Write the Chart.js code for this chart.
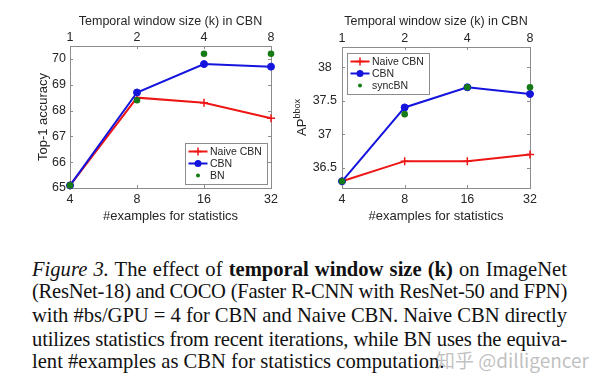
<!DOCTYPE html>
<html>
<head>
<meta charset="utf-8">
<script src="https://cdn.jsdelivr.net/npm/chart.js@4.4.1/dist/chart.umd.min.js"></script>
<style>
  body { margin: 0; background: #fff; width: 600px; height: 387px; position: relative; overflow: hidden; }
  #left { position: absolute; left: 0; top: 0; }
  #right { position: absolute; left: 280px; top: 0; }
  .cap {
    position: absolute; left: 32px; width: 535px;
    font-family: "Liberation Serif", "Times New Roman", serif;
    font-size: 20.6px; line-height: 23.5px; color: #111;
    white-space: nowrap;
    text-align: justify; text-align-last: justify;
  }
  .cap.last { text-align: left; text-align-last: left; }
  .mark {
    position: absolute; left: 436px; top: 346px;
    font-family: "Noto Sans CJK SC", "Noto Sans", sans-serif;
    font-size: 19px; color: rgba(150, 150, 150, 0.6); white-space: nowrap;
  }
</style>
</head>
<body>
<canvas id="left" width="300" height="230"></canvas>
<canvas id="right" width="320" height="230"></canvas>

<div class="cap" style="top:258px"><i>Figure 3.</i> The effect of <b>temporal window size (k)</b> on ImageNet</div>
<div class="cap" style="top:280px">(ResNet-18) and COCO (Faster R-CNN with ResNet-50 and FPN)</div>
<div class="cap" style="top:304px">with #bs/GPU = 4 for CBN and Naive CBN. Naive CBN directly</div>
<div class="cap" style="top:328px">utilizes statistics from recent iterations, while BN uses the equiva-</div>
<div class="cap last" style="top:350px">lent #examples as CBN for statistics computation.</div>
<div class="mark">知乎 @dilligencer</div>

<script>
  // x categories (bottom axis) and window sizes (top axis)
  const examples = ["4", "8", "16", "32"];
  const windowSizes = ["1", "2", "4", "8"];

  // ImageNet, ResNet-18
  const imagenetNaive = [65.1, 68.5, 68.3, 67.7];
  const imagenetCBN = [65.1, 68.7, 69.8, 69.7];
  const imagenetBN = [65.1, 68.4, 70.2, 70.2];
  const imagenetTicks = [65, 66, 67, 68, 69, 70];

  // COCO, Faster R-CNN
  const cocoNaive = [36.3, 36.6, 36.6, 36.7];
  const cocoCBN = [36.3, 37.4, 37.7, 37.6];
  const cocoSync = [36.3, 37.3, 37.7, 37.7];
  const cocoTicks = [36.5, 37, 37.5, 38];

  const RED = "#ee1515";
  const BLUE = "#1414dd";
  const GREEN = "#167a16";
  const AXIS = "#8c8c8c";
  const TEXT = "#262626";
  const SANS = "'Liberation Sans', Arial, sans-serif";

  // squeeze caption lines that are wider than the column
  document.querySelectorAll(".cap:not(.last)").forEach((el) => {
    const span = document.createElement("span");
    span.innerHTML = el.innerHTML;
    span.style.whiteSpace = "nowrap";
    document.body.appendChild(span);
    span.style.font = getComputedStyle(el).font;
    const w = span.getBoundingClientRect().width;
    span.remove();
    const target = el.clientWidth;
    if (w > target) {
      el.style.letterSpacing = ((target - w - 1) / el.textContent.length) + "px";
    }
  });

  // box around plot area with inward ticks, like matlab
  const matlabBox = {
    id: "matlabBox",
    beforeDatasetsDraw(chart) {
      const { ctx, chartArea: a, scales } = chart;
      ctx.save();
      ctx.strokeStyle = AXIS;
      ctx.lineWidth = 1;
      ctx.strokeRect(Math.round(a.left) + 0.5, Math.round(a.top) + 0.5,
        Math.round(a.right - a.left), Math.round(a.bottom - a.top));
      ctx.beginPath();
      scales.x.ticks.forEach((t, i) => {
        const px = Math.round(scales.x.getPixelForTick(i)) + 0.5;
        ctx.moveTo(px, a.bottom); ctx.lineTo(px, a.bottom - 3);
        ctx.moveTo(px, a.top); ctx.lineTo(px, a.top + 3);
      });
      scales.y.ticks.forEach((t) => {
        const py = Math.round(scales.y.getPixelForValue(t.value)) + 0.5;
        ctx.moveTo(a.left, py); ctx.lineTo(a.left + 3, py);
        ctx.moveTo(a.right, py); ctx.lineTo(a.right - 3, py);
      });
      ctx.stroke();
      ctx.restore();
    },
    afterDatasetsDraw(chart, args, opts) {
      const { ctx, chartArea: a } = chart;
      const w = 82, h = 41;
      const x0 = opts.corner === "br" ? a.right - 4 - w : a.left + 5;
      const y0 = opts.corner === "br" ? a.bottom - 4 - h : a.top + 6;
      ctx.save();
      ctx.fillStyle = "#fff";
      ctx.fillRect(x0, y0, w, h);
      ctx.strokeStyle = AXIS;
      ctx.lineWidth = 1;
      ctx.strokeRect(Math.round(x0) + 0.5, Math.round(y0) + 0.5, w, h);
      ctx.font = "10.5px " + SANS;
      ctx.textBaseline = "middle";
      chart.data.datasets.forEach((ds, i) => {
        const y = y0 + 8.5 + i * 12;
        const mx = x0 + 13;
        ctx.strokeStyle = ds.borderColor;
        ctx.fillStyle = ds.backgroundColor;
        if (ds.showLine !== false) {
          ctx.lineWidth = 2;
          ctx.beginPath();
          ctx.moveTo(x0 + 3.5, y); ctx.lineTo(x0 + 22.5, y);
          ctx.stroke();
        }
        const r = ds.pointRadius;
        if (ds.pointStyle === "cross") {
          ctx.lineWidth = 1.5;
          ctx.beginPath();
          ctx.moveTo(mx - r, y); ctx.lineTo(mx + r, y);
          ctx.moveTo(mx, y - r); ctx.lineTo(mx, y + r);
          ctx.stroke();
        } else {
          ctx.beginPath();
          ctx.arc(mx, y, ds.showLine === false ? 2 : r, 0, Math.PI * 2);
          ctx.fill();
        }
        ctx.fillStyle = TEXT;
        ctx.fillText(ds.label, x0 + 25, y + 0.5);
      });
      ctx.restore();
    },
  };

  // AP^bbox title for the COCO plot
  const apTitle = {
    id: "apTitle",
    afterDraw(chart, args, opts) {
      if (!opts.show) return;
      const { ctx, chartArea: a } = chart;
      ctx.save();
      ctx.translate(22, (a.top + a.bottom) / 2);
      ctx.rotate(-Math.PI / 2);
      ctx.fillStyle = TEXT;
      ctx.textBaseline = "middle";
      ctx.font = "13px " + SANS;
      const w1 = ctx.measureText("AP").width;
      ctx.font = "9px " + SANS;
      const w2 = ctx.measureText("bbox").width;
      const start = -(w1 + w2) / 2;
      ctx.font = "13px " + SANS;
      ctx.fillText("AP", start, 0);
      ctx.font = "9px " + SANS;
      ctx.fillText("bbox", start + w1, -4);
      ctx.restore();
    },
  };

  function lineSet(label, data, color, style, radius, order) {
    return {
      label, data, order,
      borderColor: color,
      backgroundColor: color,
      borderWidth: 2,
      pointStyle: style,
      pointRadius: radius,
      pointBorderWidth: style === "cross" ? 1.5 : 1,
      tension: 0,
      clip: false,
    };
  }

  function dotSet(label, data) {
    return {
      label, data, order: 0,
      borderColor: GREEN,
      backgroundColor: GREEN,
      showLine: false,
      pointStyle: "circle",
      pointRadius: 3.3,
      pointBorderWidth: 0,
      clip: false,
    };
  }

  function makeChart(el, cfg) {
    return new Chart(el, {
      type: "line",
      data: { labels: examples, datasets: cfg.datasets },
      options: {
        responsive: false,
        animation: false,
        layout: { padding: { right: cfg.padRight, left: 0, top: 0, bottom: 0 } },
        plugins: {
          legend: { display: false },
          tooltip: { enabled: false },
          matlabBox: { corner: cfg.corner },
          apTitle: { show: cfg.apTitle },
        },
        scales: {
          x: {
            type: "category",
            position: "bottom",
            offset: false,
            grid: { display: false, drawTicks: false },
            border: { display: false },
            ticks: { color: TEXT, padding: 4, font: { size: 12.5, family: SANS }, maxRotation: 0 },
            title: { display: true, text: "#examples for statistics", color: TEXT, font: { size: 13, family: SANS }, padding: { top: 0, bottom: 6 } },
            afterFit: (s) => { s.height = 42; },
          },
          x2: {
            type: "category",
            axis: "x",
            position: "top",
            labels: windowSizes,
            offset: false,
            grid: { display: false, drawTicks: false },
            border: { display: false },
            ticks: { color: TEXT, padding: 1, font: { size: 12.5, family: SANS }, maxRotation: 0 },
            title: { display: true, text: "Temporal window size (k) in CBN", color: TEXT, font: { size: 12.5, family: SANS }, padding: { top: 14.5, bottom: 0 } },
            afterFit: (s) => { s.height = cfg.top; },
          },
          y: {
            type: "linear",
            position: "left",
            min: cfg.min,
            max: cfg.max,
            afterBuildTicks: (s) => { s.ticks = cfg.ticks.map((v) => ({ value: v })); },
            grid: { display: false, drawTicks: false },
            border: { display: false },
            ticks: { color: TEXT, padding: cfg.tickPad, crossAlign: cfg.crossAlign, font: { size: 12.5, family: SANS }, callback: (v) => String(v) },
            title: { display: !cfg.apTitle, text: cfg.yTitle, color: TEXT, font: { size: 13, family: SANS }, padding: { top: 36, bottom: 0 } },
            afterFit: (s) => { s.width = cfg.yWidth; },
          },
        },
      },
      plugins: [matlabBox, apTitle],
    });
  }

  makeChart(document.getElementById("left"), {
    datasets: [
      lineSet("Naive CBN", imagenetNaive, RED, "cross", 4, 2),
      lineSet("CBN", imagenetCBN, BLUE, "circle", 3.5, 1),
      dotSet("BN", imagenetBN),
    ],
    min: 65, max: 70.5, ticks: imagenetTicks,
    yTitle: "Top-1 accuracy", yWidth: 70, padRight: 29, top: 46,
    tickPad: 4, crossAlign: "near", corner: "br", apTitle: false,
  });

  makeChart(document.getElementById("right"), {
    datasets: [
      lineSet("Naive CBN", cocoNaive, RED, "cross", 4, 2),
      lineSet("CBN", cocoCBN, BLUE, "circle", 3.5, 1),
      dotSet("syncBN", cocoSync),
    ],
    min: 36.2, max: 38.3, ticks: cocoTicks,
    yTitle: "AP", yWidth: 62, padRight: 70, top: 47,
    tickPad: 5, crossAlign: "center", corner: "tl", apTitle: true,
  });
</script>
</body>
</html>
